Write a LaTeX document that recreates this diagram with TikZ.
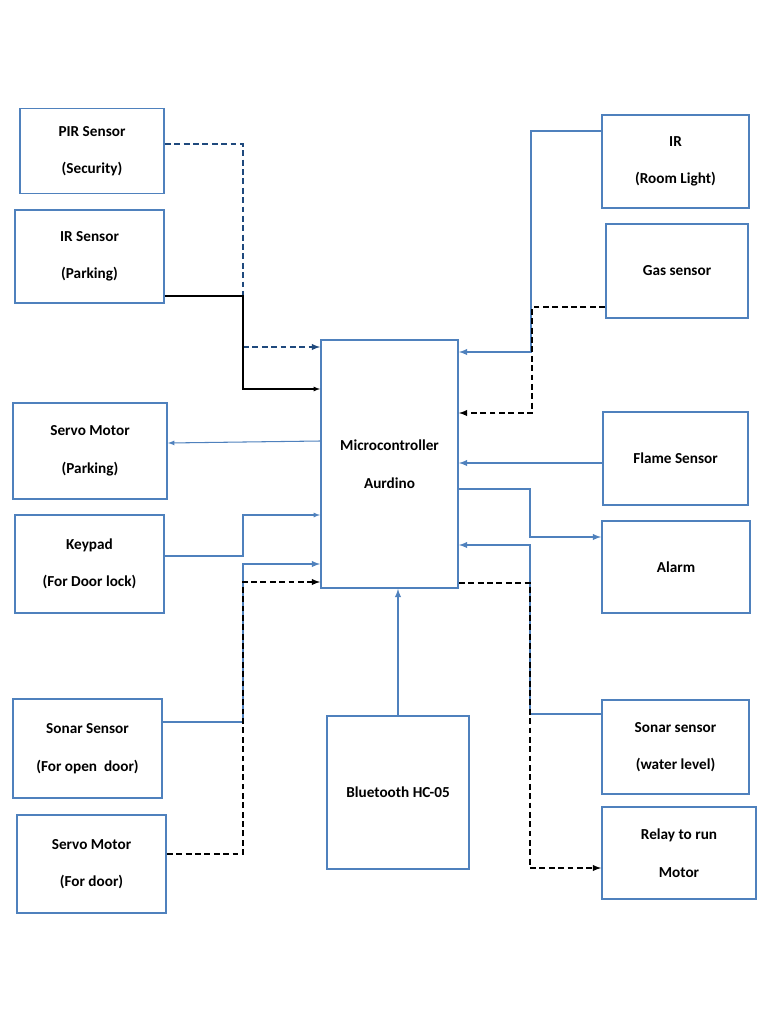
\documentclass[tikz,border=0pt]{standalone}
\usepackage{fontspec}
\setmainfont{Carlito}
\usetikzlibrary{arrows,positioning}
\definecolor{boxblue}{HTML}{4F81BD}
\definecolor{darkblue}{HTML}{1F497D}
\begin{document}
\begin{tikzpicture}[x=0.03cm,y=-0.03cm,>=latex]
              \useasboundingbox (0,0) rectangle (768,1024);
              \tikzstyle{every node} = [draw=boxblue, line width=1.6pt, align=center, font=\fontsize{13}{32}\selectfont\bfseries, inner sep=0pt];
              \tikzstyle{wire} = [boxblue, line width=1.4pt, ->];
              \tikzstyle{thinwire} = [boxblue, line width=0.9pt, ->];
              \tikzstyle{dashwire} = [black, line width=1.4pt, dash pattern=on 5pt off 3pt, ->];
              % left side
              \node[minimum width=4.32cm, minimum height=2.55cm] (pir) at (92,151) {PIR Sensor\\(Security)};
              \node[minimum width=4.47cm, minimum height=2.79cm] (irs) at (89.5,256.5) {IR Sensor\\(Parking)};
              \node[minimum width=4.62cm, minimum height=2.88cm] (svp) at (90,451) {Servo Motor\\(Parking)};
              \node[minimum width=4.47cm, minimum height=2.94cm] (kp) at (89.5,564) {Keypad\\(For Door lock)};
              \node[minimum width=4.47cm, minimum height=2.97cm] (son) at (87.5,748.5) {Sonar Sensor\\(For open\ \ door)};
              \node[minimum width=4.47cm, minimum height=2.94cm] (svd) at (91.5,864) {Servo Motor\\(For door)};
              % centre
              \node[minimum width=4.11cm, minimum height=7.44cm] (mc) at (389.5,464) {Microcontroller\\Aurdino};
              \node[minimum width=4.26cm, minimum height=4.59cm] (bt) at (398,792.5) {Bluetooth HC-05};
              % right side
              \node[minimum width=4.41cm, minimum height=2.79cm] (irr) at (675.5,161.5) {IR\\(Room Light)};
              \node[minimum width=4.26cm, minimum height=2.82cm] (gas) at (677,271) {Gas sensor};
              \node[minimum width=4.35cm, minimum height=2.79cm] (fl) at (675.5,458.5) {Flame Sensor};
              \node[minimum width=4.44cm, minimum height=2.76cm] (al) at (676,567) {Alarm};
              \node[minimum width=4.41cm, minimum height=2.82cm] (sw) at (675.5,747) {Sonar sensor\\(water level)};
              \node[minimum width=4.62cm, minimum height=2.76cm] (rl) at (679,853) {Relay to run\\Motor};
              % left wires
              \draw[dashwire, darkblue] (pir.east |- 0,144) -| (243,347) -- (mc.west |- 0,347);
              \draw[black, line width=0.9pt, ->] (irs.east |- 0,296) -| (243,389) -- (mc.west |- 0,389);
              \draw[thinwire] (mc.west |- 0,441) -- (svp.east |- 0,443);
              \draw[thinwire] (kp.east |- 0,556) -| (243,515) -- (mc.west |- 0,515);
              \draw[wire] (son.east |- 0,722) -| (243,564) -- (mc.west |- 0,564);
              \draw[dashwire] (svd.east |- 0,854) -| (243,582) -- (mc.west |- 0,582);
              \draw[wire] (bt.north) -- (bt.north |- mc.south);
              % right wires
              \draw[wire] (irr.west |- 0,131) -| (531,352) -- (mc.east |- 0,352);
              \draw[dashwire] (gas.west |- 0,307) -| (532,413) -- (mc.east |- 0,413);
              \draw[wire] (fl.west |- 0,463) -- (mc.east |- 0,463);
              \draw[wire] (mc.east |- 0,489) -| (530,537) -- (al.west |- 0,537);
              \draw[wire] (sw.west |- 0,714) -| (530,545) -- (mc.east |- 0,545);
              \draw[dashwire] (mc.east |- 0,583) -| (530,868) -- (rl.west |- 0,868);
            \end{tikzpicture}
\end{document}
